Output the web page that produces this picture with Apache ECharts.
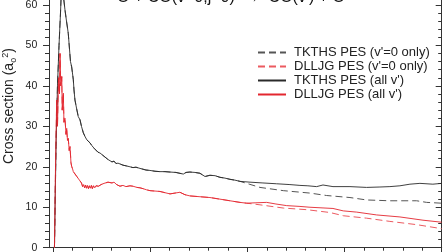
<!DOCTYPE html>
<html><head><meta charset="utf-8">
<script src="https://cdn.jsdelivr.net/npm/echarts@6/dist/echarts.min.js"></script>
<style>html,body{margin:0;padding:0;background:#fff}#c{width:448px;height:252px}</style>
</head><body><div id="c"></div>
<script>
// Series names
const seriesNames = ["TKTHS PES (v'=0 only)", "DLLJG PES (v'=0 only)", "TKTHS PES (all v')", "DLLJG PES (all v')"];
// x major/minor tick positions (energy, axis labels are cropped in the reference)
const xMajorTicks = [0, 1, 2, 3, 4];
const xMinorTicks = [0.2,0.4,0.6,0.8,1.2,1.4,1.6,1.8,2.2,2.4,2.6,2.8,3.2,3.4,3.6,3.8];

// TKTHS PES, all v' : [energy, cross section]
const tkthsAll = [
 [0.015,0],[0.031,25],[0.046,40],[0.062,50],[0.077,58],[0.087,64],[0.098,66],[0.108,62],[0.123,58.8],
 [0.139,56],[0.157,53],[0.170,49],[0.180,46],[0.192,44.7],[0.209,41.5],[0.216,39],[0.226,36.5],
 [0.242,34.5],[0.260,32.4],[0.278,31.6],[0.293,30],[0.312,28.4],[0.329,27.5],[0.347,26.7],[0.360,26.5],
 [0.381,25.9],[0.401,25.2],[0.422,24.6],[0.442,24.3],[0.463,23.6],[0.484,23.4],[0.504,23.0],[0.525,22.6],
 [0.545,22.4],[0.566,21.8],[0.586,21.7],[0.607,21.2],[0.628,21.4],[0.648,20.8],[0.669,20.9],[0.689,20.5],
 [0.720,20.4],[0.758,20.2],[0.792,20.0],[0.823,19.8],[0.854,19.9],[0.895,19.6],[0.926,19.4],[0.957,19.2],
 [0.998,19.1],[1.049,18.9],[1.101,18.8],[1.152,18.8],[1.204,18.7],[1.265,18.6],[1.341,18.2],[1.368,18.6],
 [1.409,18.7],[1.461,18.6],[1.512,18.4],[1.564,17.6],[1.615,17.9],[1.667,17.8],[1.718,17.4],[1.770,17.2],
 [1.821,16.9],[1.872,16.7],[1.924,16.4],[1.975,16.3],[2.027,16.2],[2.160,16.0],[2.301,15.8],[2.438,15.6],
 [2.541,15.4],[2.623,15.3],[2.713,15.1],[2.778,15.5],[2.881,15.1],[3.056,15.1],[3.227,14.9],[3.364,15.0],
 [3.467,15.1],[3.570,15.3],[3.673,15.7],[3.776,15.9],[3.909,15.7],[3.999,15.9]
];
// TKTHS PES, v'=0 only (differs above ~1.9)
const tkthsV0High = [
 [1.993,15.9],[2.130,14.9],[2.370,14.1],[2.644,13.5],[2.815,12.9],[3.056,12.4],[3.227,11.8],
 [3.467,11.6],[3.742,11.6],[3.845,11.2],[3.999,11.0]
];
// DLLJG PES, all v'
const dlljgAll = [
 [0.015,0],[0.026,20],[0.038,36.5],[0.046,30],[0.057,42],[0.067,38],[0.072,48],[0.080,40],[0.090,42.3],
 [0.095,34],[0.106,38.2],[0.113,31],[0.123,32],[0.134,28],[0.141,29.5],[0.149,26.5],[0.157,27],[0.167,24],
 [0.175,25],[0.185,21],[0.192,20.1],[0.201,19.5],[0.209,18.8],[0.226,18.4],[0.245,17.6],[0.262,17.2],
 [0.278,16.5],[0.293,16.0],[0.305,15.1],[0.315,15.6],[0.325,14.8],[0.335,15.5],[0.345,14.7],[0.355,15.4],
 [0.365,14.6],[0.375,15.3],[0.385,14.7],[0.395,15.4],[0.405,14.6],[0.417,15.3],[0.430,14.8],[0.442,15.3],
 [0.455,14.9],[0.468,15.2],[0.484,15.2],[0.495,15.6],[0.504,15.4],[0.525,15.9],[0.535,15.6],
 [0.545,15.9],[0.566,16.2],[0.578,15.9],[0.586,16.4],[0.607,16.0],[0.628,16.2],[0.655,15.6],[0.689,15.2],[0.720,15.4],
 [0.751,15.1],[0.792,15.3],[0.823,15.2],[0.864,14.9],[0.895,14.8],[0.926,14.6],[0.964,14.3],[0.998,14.1],
 [1.049,14.0],[1.101,13.9],[1.152,13.6],[1.204,13.3],[1.306,13.7],[1.358,13.1],[1.409,12.8],[1.512,12.6],
 [1.615,12.4],[1.718,12.0],[1.821,11.6],[1.924,11.2],[1.993,11.0],[2.088,11.1],[2.199,11.2],[2.294,10.8],
 [2.404,10.4],[2.541,10.2],[2.644,10.0],[2.881,9.7],[2.987,9.1],[3.124,8.8],[3.330,8.1],[3.570,7.6],
 [3.807,6.8],[3.999,6.3]
];
// DLLJG PES, v'=0 only (differs above ~2.0)
const dlljgV0High = [
 [2.130,10.6],[2.370,9.8],[2.610,9.4],[2.850,8.7],[2.987,7.9],[3.227,7.3],[3.467,6.5],[3.742,5.7],[3.999,4.7]
];

const tkthsV0 = tkthsAll.filter(p => p[0] < 1.93).concat(tkthsV0High);
const dlljgV0 = dlljgAll.filter(p => p[0] < 2.0).concat(dlljgV0High);

const FONT = 'Liberation Sans';
const GREY = '#2a2a2a', RED = '#e3262f';
const chart = echarts.init(document.getElementById('c'), null, {renderer: 'canvas'});
const xBase = {type: 'value', min: -0.0412, max: 4, position: 'bottom',
  splitLine: {show: false}, axisLabel: {show: false}};
const yBase = {type: 'value', min: 0, max: 70, interval: 10, splitLine: {show: false}};
chart.setOption({
  animation: false,
  backgroundColor: '#fff',
  graphic: [{type: 'text', left: 117, top: -10,
    style: {text: "O + CO(v=0,j=0)  \u2192  CO(v') + O", font: '16px "Liberation Sans"', fill: '#111'}}],
  grid: {left: 49, right: 6.3, top: -35.5, bottom: 4.3, containLabel: false, outerBoundsMode: 'none'},
  legend: {orient: 'vertical', left: 252, top: 41, itemWidth: 28, itemHeight: 14, itemGap: 1,
    data: seriesNames, itemStyle: {opacity: 0},
    textStyle: {fontFamily: FONT, fontSize: 13, color: '#222', padding: [0, 0, 0, 3]}},
  xAxis: [
    Object.assign({}, xBase, {axisLine: {onZero: false, lineStyle: {color: '#333', width: 1}},
      axisTick: {show: true, inside: false, length: 6, customValues: xMajorTicks, lineStyle: {color: '#333'}}}),
    Object.assign({}, xBase, {axisLine: {show: false, onZero: false},
      axisTick: {show: true, inside: false, length: 3, customValues: xMinorTicks, lineStyle: {color: '#333'}}})
  ],
  yAxis: [
    Object.assign({}, yBase, {position: 'left',
      axisLine: {show: true, onZero: false, lineStyle: {color: '#333', width: 1}},
      axisTick: {show: true, inside: false, length: 6, lineStyle: {color: '#333'}},
      minorTick: {show: true, splitNumber: 5, length: 4, lineStyle: {color: '#333'}},
      axisLabel: {margin: 11.7, fontFamily: FONT, fontSize: 10.5, color: '#222'},
      name: 'Cross section (a{sub|o}{sup|2})', nameLocation: 'middle', nameGap: 31, nameRotate: 90,
      nameMoveOverlap: false,
      nameTextStyle: {fontFamily: FONT, fontSize: 14, color: '#222',
        rich: {sub: {fontFamily: FONT, fontSize: 9, color: '#222', verticalAlign: 'bottom', padding: [8,0,0,0]},
               sup: {fontFamily: FONT, fontSize: 9, color: '#222', verticalAlign: 'top', padding: [0,0,8,0]}}}}),
    Object.assign({}, yBase, {position: 'right',
      axisLine: {show: true, onZero: false, lineStyle: {color: '#333', width: 1}},
      axisTick: {show: true, inside: true, length: 6, lineStyle: {color: '#333'}},
      minorTick: {show: true, splitNumber: 5, length: 3.5, lineStyle: {color: '#333'}},
      axisLabel: {show: false}})
  ],
  series: [
    {name: seriesNames[0], type: 'line', data: tkthsV0, symbol: 'none', color: '#555',
      lineStyle: {color: '#555', width: 1, type: [7, 4]}},
    {name: seriesNames[1], type: 'line', data: dlljgV0, symbol: 'none', color: '#ec5a60',
      lineStyle: {color: '#ec5a60', width: 1, type: [7, 4]}},
    {name: seriesNames[2], type: 'line', data: tkthsAll, symbol: 'none', color: GREY,
      lineStyle: {color: GREY, width: 0.9}},
    {name: seriesNames[3], type: 'line', data: dlljgAll, symbol: 'none', color: RED,
      lineStyle: {color: RED, width: 0.9}}
  ]
});
</script></body></html>
